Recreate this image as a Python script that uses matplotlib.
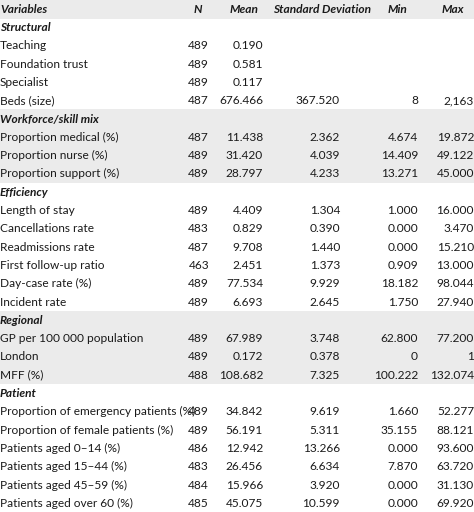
import matplotlib
matplotlib.use("Agg")
import matplotlib.pyplot as plt
from matplotlib.patches import Rectangle

headers = ["Variables", "N", "Mean", "Standard Deviation", "Min", "Max"]
sections = ["Structural", "Workforce/skill mix", "Efficiency", "Regional", "Patient"]
variables = [
    ["Teaching", "Foundation trust", "Specialist", "Beds (size)"],
    ["Proportion medical (%)", "Proportion nurse (%)", "Proportion support (%)"],
    ["Length of stay", "Cancellations rate", "Readmissions rate", "First follow-up ratio",
     "Day-case rate (%)", "Incident rate"],
    ["GP per 100 000 population", "London", "MFF (%)"],
    ["Proportion of emergency patients (%)", "Proportion of female patients (%)",
     "Patients aged 0\u201314 (%)", "Patients aged 15\u201344 (%)", "Patients aged 45\u201359 (%)",
     "Patients aged over 60 (%)"],
]
n_vals = [[489, 489, 489, 487], [487, 489, 489], [489, 483, 487, 463, 489, 489],
          [489, 489, 488], [489, 489, 486, 483, 484, 485]]
means = [["0.190", "0.581", "0.117", "676.466"], ["11.438", "31.420", "28.797"],
         ["4.409", "0.829", "9.708", "2.451", "77.534", "6.693"],
         ["67.989", "0.172", "108.682"],
         ["34.842", "56.191", "12.942", "26.456", "15.966", "45.075"]]
sds = [["", "", "", "367.520"], ["2.362", "4.039", "4.233"],
       ["1.304", "0.390", "1.440", "1.373", "9.929", "2.645"],
       ["3.748", "0.378", "7.325"],
       ["9.619", "5.311", "13.266", "6.634", "3.920", "10.599"]]
mins = [["", "", "", "8"], ["4.674", "14.409", "13.271"],
        ["1.000", "0.000", "0.000", "0.909", "18.182", "1.750"],
        ["62.800", "0", "100.222"],
        ["1.660", "35.155", "0.000", "7.870", "0.000", "0.000"]]
maxs = [["", "", "", "2,163"], ["19.872", "49.122", "45.000"],
        ["16.000", "3.470", "15.210", "13.000", "98.044", "27.940"],
        ["77.200", "1", "132.074"],
        ["52.277", "88.121", "93.600", "63.720", "31.130", "69.920"]]

W, H = 474, 512
fig = plt.figure(figsize=(W / 100, H / 100), dpi=100)
ax = fig.add_axes([0, 0, 1, 1])
ax.set_xlim(0, W)
ax.set_ylim(H, 0)
ax.axis("off")

font = "Lato"
fs = 8.6
rh = 18.3
gray = "#ebebeb"
txt = "#1a1a1a"

ax.add_patch(Rectangle((0, 0), W, 19.0, color=gray, lw=0))
hx = [0, 198, 244, 322, 397, 453]
for i, h in enumerate(headers):
    ax.text(hx[i], 9.5, h, ha="left" if i == 0 else "center", va="center",
            fontsize=fs, family=font, style="italic", weight="bold", color=txt)

y = 27.5
col_r = [209, 263, 340, 418, 474]
for s, sec in enumerate(sections):
    nrow = 1 + len(variables[s])
    if s % 2 == 1:
        ax.add_patch(Rectangle((0, y - rh / 2 - 0.5), W, nrow * rh, color=gray, lw=0))
    ax.text(0, y, sec, ha="left", va="center", fontsize=fs, family=font,
            style="italic", weight="bold", color=txt)
    y += rh
    for r, v in enumerate(variables[s]):
        ax.text(0, y, v, ha="left", va="center", fontsize=fs, family=font, color=txt)
        vals = [str(n_vals[s][r]), means[s][r], sds[s][r], mins[s][r], maxs[s][r]]
        for c, val in enumerate(vals):
            ax.text(col_r[c], y, val, ha="right", va="center", fontsize=fs,
                    family=font, color=txt)
        y += rh

fig.savefig("out.png", dpi=100)
